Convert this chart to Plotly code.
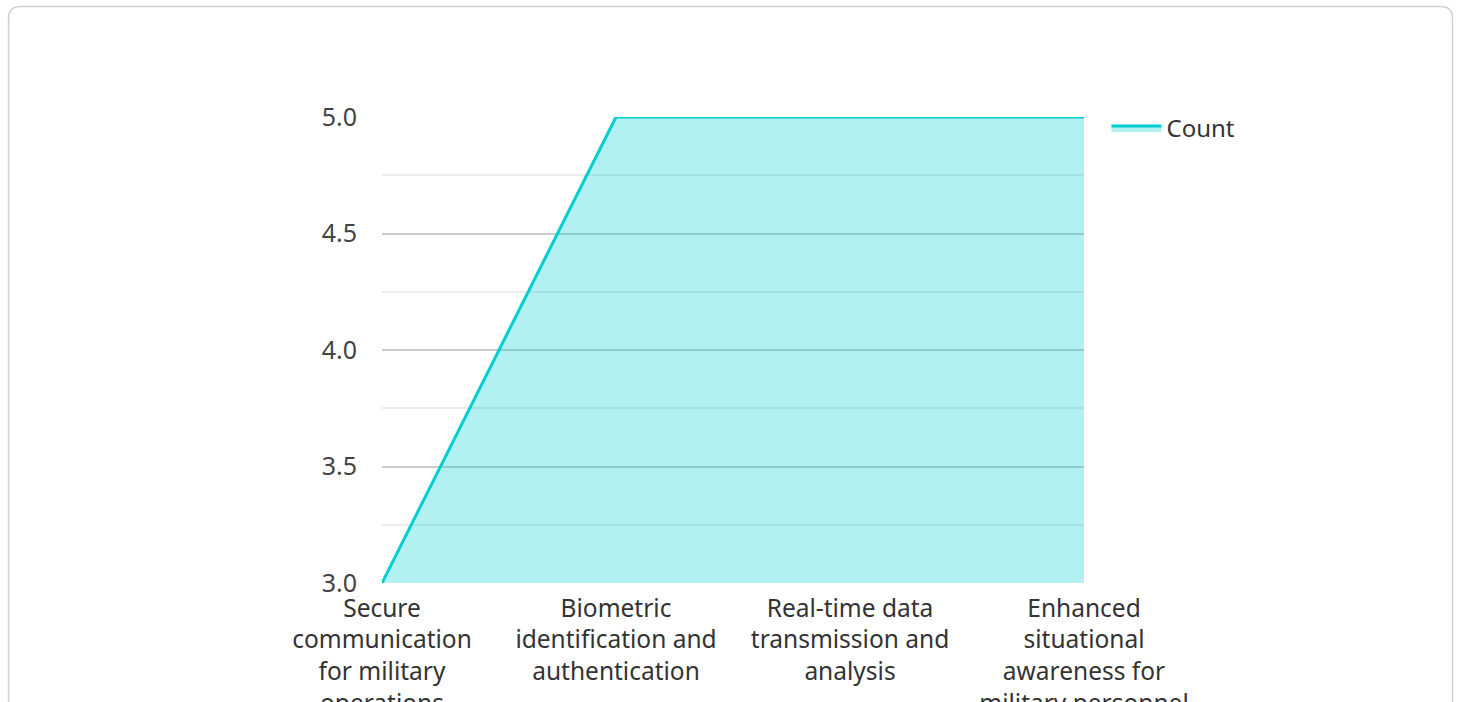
import plotly.graph_objects as go

categories = [
    "Secure<br>communication<br>for military<br>operations",
    "Biometric<br>identification and<br>authentication",
    "Real-time data<br>transmission and<br>analysis",
    "Enhanced<br>situational<br>awareness for<br>military personnel",
]
counts = [3, 5, 5, 5]
series_name = "Count"

W, H = 1460, 760
L, R, T, B = 382, 1460 - 1084, 117, 760 - 583
pw, ph = W - L - R, H - T - B

def px_x(x):
    return (x - L) / pw

def px_y(y):
    return 1 - (y - T) / ph

fig = go.Figure()
fig.add_trace(go.Scatter(
    x=list(range(len(categories))), y=counts, name=series_name,
    mode="lines", line=dict(color="#00CED1", width=3),
    fill="tozeroy", fillcolor="rgba(0,206,209,0.3)",
))

# card border (rounded rect)
x0, x1, y0, y1, r = 8.5, 1452.5, 6.5, 740, 12
rx, ry = r / pw, r / ph
X0, X1, Y0, Y1 = px_x(x0), px_x(x1), px_y(y0), px_y(y1)
path = (f"M {X0+rx},{Y0} L {X1-rx},{Y0} Q {X1},{Y0} {X1},{Y0-ry} "
        f"L {X1},{Y1+ry} Q {X1},{Y1} {X1-rx},{Y1} L {X0+rx},{Y1} "
        f"Q {X0},{Y1} {X0},{Y1+ry} L {X0},{Y0-ry} Q {X0},{Y0} {X0+rx},{Y0} Z")
fig.add_shape(type="path", path=path, xref="paper", yref="paper",
              line=dict(color="#d0d0d0", width=1.5), layer="below")

fig.update_layout(
    width=W, height=H,
    margin=dict(l=L, r=R, t=T, b=B),
    paper_bgcolor="white", plot_bgcolor="white",
    font=dict(family="Noto Sans", size=24, color="#333"),
    showlegend=True,
    legend=dict(x=1.032, y=1.024, xanchor="left", yanchor="top",
                font=dict(size=24, color="#333"), itemwidth=50),
    xaxis=dict(
        tickmode="array", tickvals=list(range(len(categories))), ticktext=categories,
        range=[0, 3], showgrid=False, zeroline=False, showline=False,
        tickfont=dict(size=24.5, color="#333"),
        ticklabelstandoff=8,
    ),
    yaxis=dict(
        range=[3, 5], dtick=0.5, tickformat=".1f",
        showgrid=True, gridcolor="#cccccc", gridwidth=1.5,
        zeroline=False, showline=False,
        tickfont=dict(size=25, color="#444"),
        ticklabelstandoff=24,
        minor=dict(dtick=0.25, showgrid=True, gridcolor="#ebebeb", gridwidth=1.5),
    ),
)

fig.write_html("out.html")
